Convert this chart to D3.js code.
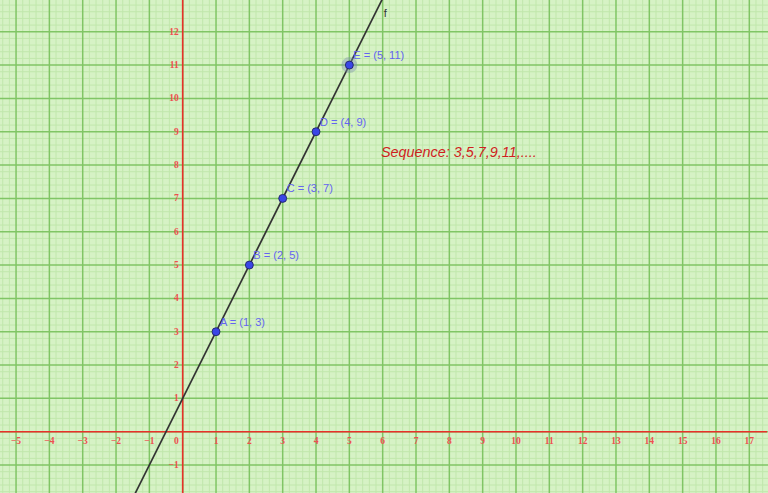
<!DOCTYPE html>
<html lang="en">
<head>
    <meta charset="UTF-8">
    <title>Sequence 3,5,7,9,11 - linear graph</title>
    <script src="https://d3js.org/d3.v7.min.js"></script>
    <style>
        body { margin: 0; overflow: hidden; background: #d6f2c5; }
        svg { display: block; }
        .tick-label { font-family: "Liberation Serif", serif; font-size: 9.5px; font-weight: bold; fill: #ee4f4f; }
        .pt-label { font-family: "Liberation Sans", Arial, sans-serif; font-size: 11px; fill: #6464f2; }
    </style>
</head>
<body>
    <svg id="chart" width="768" height="493"></svg>

    <script>
        // points on the sequence graph
        const pointNames = ["A", "B", "C", "D", "E"];
        const pointX = [1, 2, 3, 4, 5];
        const pointY = [3, 5, 7, 9, 11];

        // line f: y = 2x + 1
        const slope = 2;
        const intercept = 1;

        const xTicks = [-5, -4, -3, -2, -1, 1, 2, 3, 4, 5, 6, 7, 8, 9, 10, 11, 12, 13, 14, 15, 16, 17];
        const yTicks = [-1, 1, 2, 3, 4, 5, 6, 7, 8, 9, 10, 11, 12];

        const sequenceText = "Sequence: 3,5,7,9,11,....";

        const width = 768, height = 493;
        const unit = 33.33, ox = 182.7, oy = 431.7;

        const x = d3.scaleLinear().domain([-ox / unit, (width - ox) / unit]).range([0, width]);
        const y = d3.scaleLinear().domain([-(height - oy) / unit, oy / unit]).range([height, 0]);

        const svg = d3.select("#chart");

        svg.append("rect").attr("width", width).attr("height", height).attr("fill", "#d6f2c5");

        // minor grid (5 subdivisions per unit)
        const minorX = d3.range(Math.ceil(x.domain()[0] * 5), Math.floor(x.domain()[1] * 5) + 1)
            .filter(k => k % 5 !== 0).map(k => k / 5);
        const minorY = d3.range(Math.ceil(y.domain()[0] * 5), Math.floor(y.domain()[1] * 5) + 1)
            .filter(k => k % 5 !== 0).map(k => k / 5);

        const grid = svg.append("g");
        grid.selectAll(".mx").data(minorX).enter().append("line")
            .attr("x1", d => x(d)).attr("x2", d => x(d)).attr("y1", 0).attr("y2", height)
            .attr("stroke", "#c1e7ac").attr("stroke-width", 1);
        grid.selectAll(".my").data(minorY).enter().append("line")
            .attr("y1", d => y(d)).attr("y2", d => y(d)).attr("x1", 0).attr("x2", width)
            .attr("stroke", "#c1e7ac").attr("stroke-width", 1);

        // major grid
        const majorX = d3.range(Math.ceil(x.domain()[0]), Math.floor(x.domain()[1]) + 1);
        const majorY = d3.range(Math.ceil(y.domain()[0]), Math.floor(y.domain()[1]) + 1);
        grid.selectAll(".Mx").data(majorX).enter().append("line")
            .attr("x1", d => x(d)).attr("x2", d => x(d)).attr("y1", 0).attr("y2", height)
            .attr("stroke", "#80c565").attr("stroke-width", 1.5);
        grid.selectAll(".My").data(majorY).enter().append("line")
            .attr("y1", d => y(d)).attr("y2", d => y(d)).attr("x1", 0).attr("x2", width)
            .attr("stroke", "#80c565").attr("stroke-width", 1.5);

        // axes
        svg.append("line").attr("x1", 0).attr("x2", width - 1).attr("y1", y(0)).attr("y2", y(0))
            .attr("stroke", "#e8302a").attr("stroke-width", 1.6);
        svg.append("line").attr("x1", x(0)).attr("x2", x(0)).attr("y1", 0).attr("y2", height)
            .attr("stroke", "#e8302a").attr("stroke-width", 1.6);

        svg.selectAll(".xl").data(xTicks).enter().append("text")
            .attr("class", "tick-label")
            .attr("x", d => x(d)).attr("y", y(0) + 12)
            .attr("text-anchor", "middle")
            .text(d => d < 0 ? "\u2212" + Math.abs(d) : d);
        svg.append("text").attr("class", "tick-label")
            .attr("x", x(0) - 4).attr("y", y(0) + 12).attr("text-anchor", "end").text("0");
        svg.selectAll(".yl").data(yTicks).enter().append("text")
            .attr("class", "tick-label")
            .attr("x", x(0) - 4).attr("y", d => y(d) + 3)
            .attr("text-anchor", "end")
            .text(d => d < 0 ? "\u2212" + Math.abs(d) : d);

        // line f
        const fx = [-3, 7];
        svg.append("line")
            .attr("x1", x(fx[0])).attr("y1", y(slope * fx[0] + intercept))
            .attr("x2", x(fx[1])).attr("y2", y(slope * fx[1] + intercept))
            .attr("stroke", "#333").attr("stroke-width", 1.7);
        svg.append("text")
            .attr("x", x(6.03)).attr("y", y(12.45))
            .attr("font-family", "Liberation Sans, sans-serif").attr("font-size", 11).attr("fill", "#333")
            .text("f");

        // halo on E (selected)
        svg.append("circle")
            .attr("cx", x(pointX[4])).attr("cy", y(pointY[4])).attr("r", 8)
            .attr("fill", "#7a8cb0").attr("opacity", 0.4);

        const pts = pointX.map((d, i) => ({ name: pointNames[i], x: d, y: pointY[i] }));
        svg.selectAll(".pt").data(pts).enter().append("circle")
            .attr("cx", d => x(d.x)).attr("cy", d => y(d.y)).attr("r", 4)
            .attr("fill", "#3a46e6").attr("stroke", "#1c1c5a").attr("stroke-width", 0.8);
        svg.selectAll(".pl").data(pts).enter().append("text")
            .attr("class", "pt-label")
            .attr("x", d => x(d.x) + 4).attr("y", d => y(d.y) - 6)
            .text(d => `${d.name} = (${d.x}, ${d.y})`);

        svg.append("text")
            .attr("x", 381).attr("y", 157)
            .attr("font-family", "Liberation Sans, Arial, sans-serif")
            .attr("font-style", "italic").attr("font-size", 14.4)
            .attr("fill", "#d01e1e")
            .text(sequenceText);
    </script>
</body>
</html>
